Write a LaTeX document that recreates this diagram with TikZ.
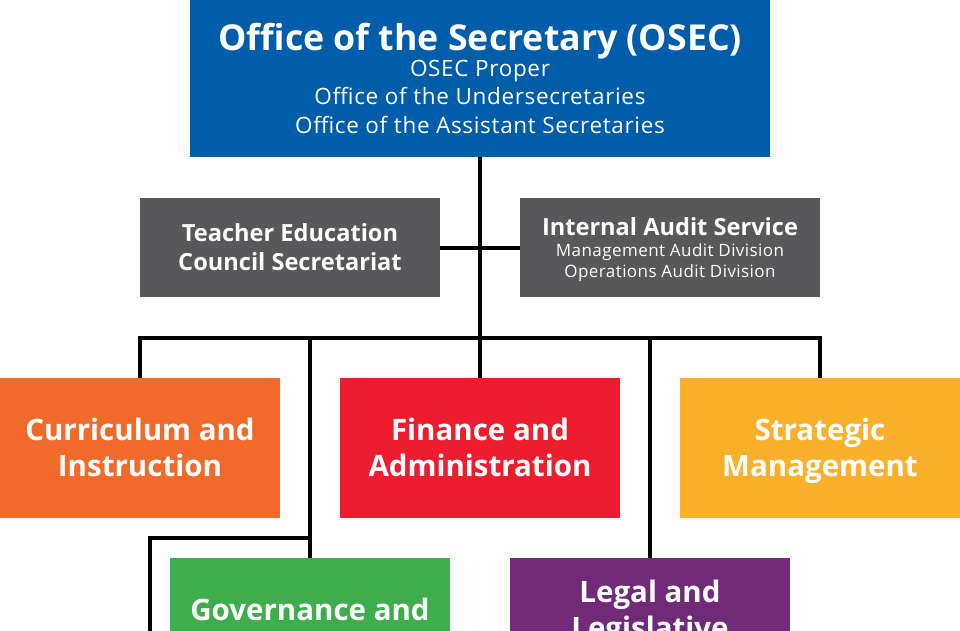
\documentclass[tikz,border=0pt]{standalone}
\usepackage{fontspec}
\setmainfont{Open Sans}
\definecolor{osecblue}{RGB}{0,93,170}
\definecolor{boxgray}{RGB}{88,88,90}
\definecolor{ciorange}{RGB}{242,106,41}
\definecolor{fared}{RGB}{237,28,46}
\definecolor{smyellow}{RGB}{251,176,43}
\definecolor{gogreen}{RGB}{61,174,75}
\definecolor{llpurple}{RGB}{113,42,119}
\tikzset{
  orgbox/.style={draw=none, inner sep=0pt, outer sep=0pt},
  bigbox/.style={orgbox, minimum width=280pt, minimum height=140pt},
  graybox/.style={orgbox, fill=boxgray, minimum width=300pt, minimum height=99pt},
  lbl/.style={anchor=base, inner sep=0pt, text=white},
  ttl/.style={lbl, font=\bfseries\fontsize{29.5}{36}\selectfont},
  gttl/.style={lbl, font=\bfseries\fontsize{23.6}{28}\selectfont},
  gsub/.style={lbl, font=\addfontfeatures{LetterSpace=2.5}\fontsize{17}{21}\selectfont},
  osub/.style={lbl, font=\addfontfeatures{LetterSpace=3}\fontsize{22.5}{28}\selectfont},
  conn/.style={line width=4pt, line join=miter, draw=black}
}
\begin{document}
\begin{tikzpicture}[x=1pt,y=-1pt]
\useasboundingbox (0,0) rectangle (960,630);
\clip (0,0) rectangle (960,630);
% boxes
\node[orgbox, fill=osecblue, minimum width=580pt, minimum height=157pt] (osec) at (480,78.5) {};
\node[graybox] (tec) at (290,247.5) {};
\node[graybox] (ias) at (670,247.5) {};
\node[bigbox, fill=ciorange] (ci) at (140,447.75) {};
\node[bigbox, fill=fared] (fa) at (480,447.75) {};
\node[bigbox, fill=smyellow] (sm) at (820,447.75) {};
\node[bigbox, fill=gogreen] (go) at (310,628) {};
\node[bigbox, fill=llpurple] (ll) at (650,628) {};
% connector points
\coordinate (barL) at (140,337.5);
\coordinate (barR) at (820,337.5);
\coordinate (barG) at (310,337.5);
\coordinate (barP) at (650,337.5);
\coordinate (brJ) at (310,537.5);
\coordinate (brC) at (150,537.5);
\coordinate (brE) at (150,640);
% connectors
\draw[conn] (osec.south) -- (fa.north);
\draw[conn] (tec.east) -- (ias.west);
\draw[conn] (ci.north) -- (barL) -- (barR) -- (sm.north);
\draw[conn] (barG) -- (go.north);
\draw[conn] (barP) -- (ll.north);
\draw[conn] (brJ) -- (brC) -- (brE);
% texts
\node[lbl, font=\bfseries\fontsize{35.7}{40}\selectfont] (osec-t) at (480,50) {Office of the Secretary (OSEC)};
\node[osub] (osec-s1) at (480,76) {OSEC Proper};
\node[osub] (osec-s2) at (480,104.5) {Office of the Undersecretaries};
\node[osub] (osec-s3) at (480,133) {Office of the Assistant Secretaries};
\node[gttl] (tec-t1) at (290,241.7) {Teacher Education};
\node[gttl] (tec-t2) at (290,270) {Council Secretariat};
\node[gttl] (ias-t) at (670,235) {Internal Audit Service};
\node[gsub] (ias-s1) at (670,256.7) {Management Audit Division};
\node[gsub] (ias-s2) at (670,277.3) {Operations Audit Division};
\node[ttl] (ci-t1) at (140,440.7) {Curriculum and};
\node[ttl] (ci-t2) at (140,476.7) {Instruction};
\node[ttl] (fa-t1) at (480,440.7) {Finance and};
\node[ttl] (fa-t2) at (480,476.7) {Administration};
\node[ttl] (sm-t1) at (820,440.7) {Strategic};
\node[ttl] (sm-t2) at (820,476.7) {Management};
\node[ttl] (go-t1) at (310,620.7) {Governance and};
\node[ttl] (go-t2) at (310,656.7) {Operations};
\node[ttl] (ll-t1) at (650,602.5) {Legal and};
\node[ttl] (ll-t2) at (650,638.5) {Legislative};
\node[ttl] (ll-t3) at (650,674.5) {Affairs};
\end{tikzpicture}
\end{document}
